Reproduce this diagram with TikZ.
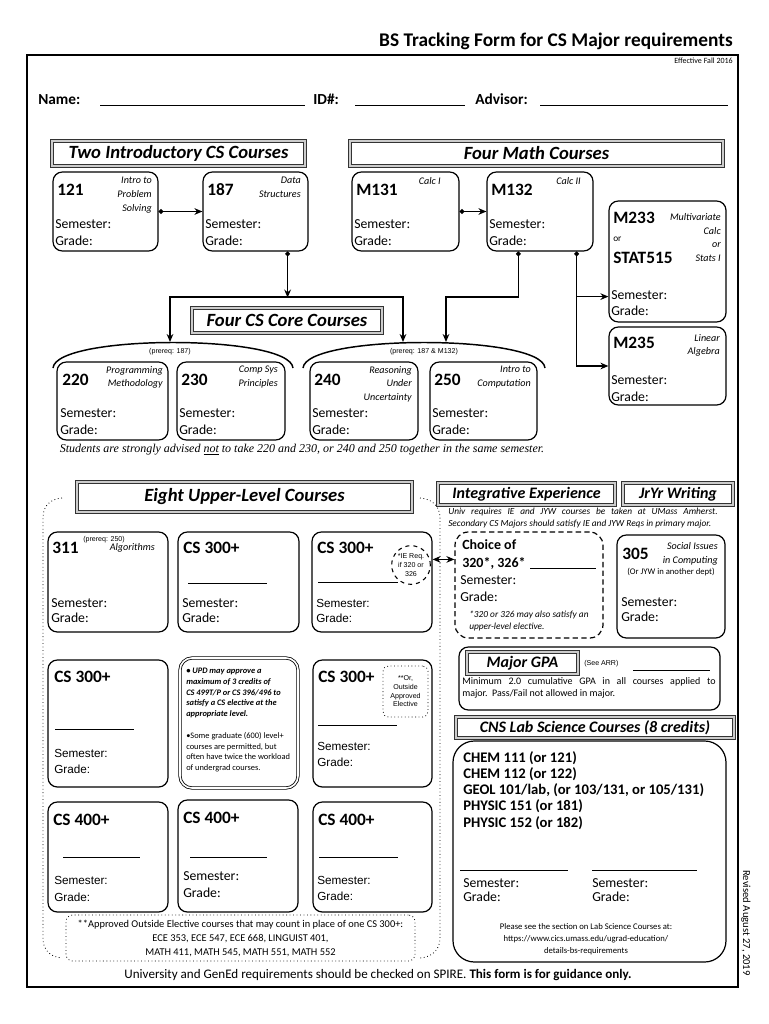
\documentclass[tikz,border=0pt]{standalone}
\usepackage{fontspec}
\setmainfont{Carlito}
\newfontfamily\arialfont{Liberation Sans}
\newfontfamily\timesfont{Liberation Serif}
\usepackage{tikz}
\usetikzlibrary{arrows.meta, positioning, fit, calc}
\newcommand{\titlefont}{\fontsize{14.5}{16}\selectfont\bfseries}
\newcommand{\numfont}{\fontsize{13}{15}\selectfont\bfseries}
\newcommand{\subfont}{\fontsize{7.6}{10.3}\selectfont\itshape}
\newcommand{\fldfont}{\fontsize{10.3}{12}\selectfont}
\newcommand{\lightfont}{\arialfont\fontsize{8.8}{10}\selectfont}
\newcommand{\hdrfont}{\fontsize{14}{16}\selectfont\bfseries\itshape}
\newcommand{\smallhdrfont}{\fontsize{12}{14}\selectfont\bfseries\itshape}
\newcommand{\tinysans}{\arialfont\fontsize{5.3}{6.5}\selectfont}
\tikzstyle{pageframe} = [draw, line width=1.5pt, inner sep=0pt]
\tikzstyle{header}    = [draw=black!80, line width=0.6pt, double=black!20, double distance=1.4pt, inner sep=0pt]
\tikzstyle{hdrtext}   = [inner sep=0pt, font=\hdrfont]
\tikzstyle{course}    = [draw, line width=0.9pt, rounded corners=7pt, inner sep=0pt]
\tikzstyle{num}       = [anchor=base west, inner sep=0pt, font=\numfont]
\tikzstyle{sub}       = [anchor=north east, inner sep=0pt, align=right, font=\subfont]
\tikzstyle{fld}       = [anchor=base west, inner sep=0pt, font=\fldfont]
\tikzstyle{lfld}      = [anchor=base west, inner sep=0pt, font=\lightfont]
\tikzstyle{info}      = [anchor=base west, inner sep=0pt, font=\fontsize{11.5}{13}\selectfont\bfseries]
\tikzstyle{prereq}    = [inner sep=0pt, font=\tinysans]
\tikzstyle{dotbox}    = [draw, dotted, line width=0.6pt, inner sep=0pt]
\tikzstyle{fillline}  = [line width=0.7pt]
\tikzstyle{grouparc}  = [line width=1.1pt]
\tikzstyle{dotbracket}= [line width=0.6pt, dotted]
\tikzstyle{arrow}     = [line width=1.1pt, {Circle[length=3.5pt]}-{Stealth[length=6pt,width=5pt]}]
\tikzstyle{branch}    = [line width=1.1pt, -{Stealth[length=6pt,width=5pt]}]
\tikzstyle{fork}      = [line width=1.1pt, {Stealth[length=6pt,width=5pt]}-{Stealth[length=6pt,width=5pt]}]
\begin{document}
\begin{tikzpicture}[x=0.75pt, y=-0.75pt]
  \useasboundingbox (0,0) rectangle (768,1024);

  % Page frame and heading
  \node (page)    [pageframe, fit={(27,55) (738,987)}] {};
  \node (title)   [anchor=base east, inner sep=0pt, font=\titlefont] at (733,47) {BS Tracking Form for CS Major requirements};
  \node (eff)     [anchor=base east, inner sep=0pt, font=\fontsize{6}{7}\selectfont] at (733,64) {Effective Fall 2016};
  \node (revised) [rotate=-90, inner sep=0pt, font=\fontsize{8}{9}\selectfont] at (746,923) {Revised August 27, 2019};

  % Student info
  \node (name)    [info] at (38,104)  {Name:};
  \node (id)      [info] at (313,104) {ID\#:};
  \node (advisor) [info] at (475,104) {Advisor:};
  \draw[fillline] (100,105) -- (305,105);
  \draw[fillline] (355,105) -- (465,105);
  \draw[fillline] (540,105) -- (728,105);

  % Intro CS courses
  \node (hdrIntro) [header, fit={(52,141) (305,166)}] {};
  \node (hdrIntroT) [hdrtext] at (hdrIntro) {Two Introductory CS Courses};
  \node (c121) [course, fit={(53,172) (158,251)}] {};
  \node (n121) [num] at (57,195)  {121};
  \node (t121) [sub] at (152,177) {Intro to\\Problem\\Solving};
  \node (s121) [fld] at (55,228)  {Semester:};
  \node (g121) [fld] at (55,245)  {Grade:};
  \node (c187) [course, fit={(203,172) (308,251)}] {};
  \node (n187) [num] at (207,195) {187};
  \node (t187) [sub] at (301,177) {Data\\Structures};
  \node (s187) [fld] at (205,228) {Semester:};
  \node (g187) [fld] at (205,245) {Grade:};

  % Math courses
  \node (hdrMath) [header, fit={(350,141) (723,166)}] {};
  \node (hdrMathT) [hdrtext] at (hdrMath) {Four Math Courses};
  \node (m131) [course, fit={(352,172) (459,251)}] {};
  \node (n131) [num] at (356,195) {M131};
  \node (t131) [sub] at (441,177) {Calc I};
  \node (s131) [fld] at (354,228) {Semester:};
  \node (g131) [fld] at (354,245) {Grade:};
  \node (m132) [course, fit={(487,172) (593,251)}] {};
  \node (n132) [num] at (491,195) {M132};
  \node (t132) [sub] at (581,177) {Calc II};
  \node (s132) [fld] at (489,228) {Semester:};
  \node (g132) [fld] at (489,245) {Grade:};
  \node (m233) [course, fit={(609,201) (726,322)}] {};
  \node (n233) [num] at (613,223) {M233};
  \node (t233) [sub] at (721,213) {Multivariate\\Calc\\or\\Stats I};
  \node (o233) [anchor=base west, inner sep=0pt, font=\fontsize{7}{8}\selectfont] at (613,241) {or};
  \node (n515) [num] at (613,263) {STAT515};
  \node (s233) [fld] at (611,299) {Semester:};
  \node (g233) [fld] at (611,315) {Grade:};
  \node (m235) [course, fit={(609,327) (726,405)}] {};
  \node (n235) [num] at (613,348) {M235};
  \node (t235) [sub] at (720,334) {Linear\\Algebra};
  \node (s235) [fld] at (611,384) {Semester:};
  \node (g235) [fld] at (611,401) {Grade:};

  % CS core courses
  \node (hdrCore) [header, fit={(192,308) (382,333)}] {};
  \node (hdrCoreT) [hdrtext] at (hdrCore) {Four CS Core Courses};
  \draw[grouparc] (53,368) .. controls (56,334) and (290,334) .. (293,368);
  \draw[grouparc] (303,368) .. controls (306,334) and (542,334) .. (545,368);
  \coordinate (coreA) at (170,342);
  \coordinate (coreB) at (403,342);
  \coordinate (coreC) at (446,342);
  \node (preA) [prereq] at (170,352) {(prereq: 187)};
  \node (preB) [prereq] at (424,352) {(prereq: 187 \& M132)};
  \node (c220) [course, fit={(57,362) (168,440)}] {};
  \node (n220) [num] at (62,385)  {220};
  \node (t220) [sub] at (163,366) {Programming\\Methodology};
  \node (s220) [fld] at (60,417)  {Semester:};
  \node (g220) [fld] at (60,434)  {Grade:};
  \node (c230) [course, fit={(177,362) (285,440)}] {};
  \node (n230) [num] at (181,385) {230};
  \node (t230) [sub] at (278,366) {Comp Sys\\Principles};
  \node (s230) [fld] at (179,417) {Semester:};
  \node (g230) [fld] at (179,434) {Grade:};
  \node (c240) [course, fit={(310,362) (418,440)}] {};
  \node (n240) [num] at (314,385) {240};
  \node (t240) [sub] at (412,366) {Reasoning\\Under\\Uncertainty};
  \node (s240) [fld] at (312,417) {Semester:};
  \node (g240) [fld] at (312,434) {Grade:};
  \node (c250) [course, fit={(430,362) (537,440)}] {};
  \node (n250) [num] at (434,385) {250};
  \node (t250) [sub] at (531,366) {Intro to\\Computation};
  \node (s250) [fld] at (432,417) {Semester:};
  \node (g250) [fld] at (432,434) {Grade:};
  \node (advice) [inner sep=0pt, font=\timesfont\fontsize{9}{10}\selectfont\itshape] at (302,450)
    {Students are strongly advised \underline{not} to take 220 and 230, or 240 and 250 together in the same semester.};

  % Prerequisite arrows
  \draw[arrow] (c121) -- (c187);
  \draw[arrow] (m131) -- (m132);
  \draw[arrow] ($(c187.south east)+(-21,0)$) -- ($(c187.south east)+(-21,46)$);
  \draw[fork] (coreA) |- ($(coreB)+(0,-45)$) -- (coreB);
  \draw[arrow] ($(m132.south west)+(32,0)$) |- ($(coreC)+(0,-45)$) -- (coreC);
  \draw[arrow] ($(m132.south east)+(-17,0)$) |- (m235.west);
  \draw[branch] ($(m132.south east)+(-17,45)$) -- ($(m233.south west)+(0,-26)$);

  % Upper-level courses
  \node (hdrUpper) [header, fit={(77,482) (412,512)}] {};
  \node (hdrUpperT) [hdrtext] at (hdrUpper) {Eight Upper-Level Courses};
  \draw[dotbracket] (62,498) .. controls (50,499) and (43,506) .. (43,518) -- (43,938)
                    .. controls (43,950) and (50,957) .. (62,958);
  \draw[dotbracket] (420,498) .. controls (432,499) and (440,506) .. (440,518) -- (440,938)
                    .. controls (440,950) and (432,957) .. (420,958);
  \node (u311) [course, fit={(48,532) (168,632)}] {};
  \node (n311) [num] at (52,553) {311};
  \node (p311) [prereq, anchor=base west] at (83,541) {(prereq: 250)};
  \node (t311) [anchor=base east, inner sep=0pt, font=\subfont] at (155,550) {Algorithms};
  \node (s311) [fld] at (51,607) {Semester:};
  \node (g311) [fld] at (51,622) {Grade:};
  \node (u300a) [course, fit={(178,532) (299,632)}] {};
  \node (n300a) [num] at (183,553) {CS 300+};
  \draw[fillline] (188,583) -- (267,583);
  \node (s300a) [fld] at (182,607) {Semester:};
  \node (g300a) [fld] at (182,622) {Grade:};
  \node (u300b) [course, fit={(312,532) (432,632)}] {};
  \node (n300b) [num] at (317,553) {CS 300+};
  \node (ieReq) [circle, draw, dashed, line width=0.8pt, inner sep=0pt, minimum size=29pt,
                 align=center, font=\tinysans] at (411,565) {*IE Req.\\if 320 or\\326};
  \draw[fillline] (318,582) -- (398,582);
  \node (s300b) [lfld] at (316,607) {Semester:};
  \node (g300b) [lfld] at (316,622) {Grade:};

  \node (u300c) [course, fit={(48,660) (168,787)}] {};
  \node (n300c) [num] at (54,682) {CS 300+};
  \draw[fillline] (55,729) -- (134,729);
  \node (s300c) [lfld] at (54,757) {Semester:};
  \node (g300c) [lfld] at (54,773) {Grade:};
  \node (note) [course, double, double distance=1.2pt, line width=0.6pt, rounded corners=9pt,
                fit={(180,658) (298,788)}] {};
  \node (noteA) [anchor=north west, inner sep=0pt, align=left, font=\fontsize{6.3}{8}\selectfont\bfseries\itshape]
    at (186,668) {• UPD may approve a\\maximum of 3 credits of\\CS 499T/P or CS 396/496 to\\satisfy a CS elective at the\\appropriate level.};
  \node (noteB) [anchor=north west, inner sep=0pt, align=left, font=\fontsize{6.3}{8}\selectfont]
    at (186,732) {•Some graduate (600) level+\\courses are permitted, but\\often have twice the workload\\of undergrad courses.};
  \node (u300d) [course, fit={(313,660) (432,787)}] {};
  \node (n300d) [num] at (318,682) {CS 300+};
  \node (orOut) [dotbox, rounded corners=4pt, fit={(383,666) (428,717)}] {};
  \node (orOutT) [align=center, inner sep=0pt, font=\tinysans] at (orOut) {**Or,\\Outside\\Approved\\Elective};
  \draw[fillline] (318,725) -- (397,725);
  \node (s300d) [lfld] at (317,750) {Semester:};
  \node (g300d) [lfld] at (317,766) {Grade:};

  \node (u400a) [course, fit={(48,802) (168,912)}] {};
  \node (n400a) [num] at (53,825) {CS 400+};
  \draw[fillline] (63,857) -- (140,857);
  \node (s400a) [lfld] at (54,884) {Semester:};
  \node (g400a) [lfld] at (54,901) {Grade:};
  \node (u400b) [course, fit={(178,800) (298,912)}] {};
  \node (n400b) [num] at (183,823) {CS 400+};
  \draw[fillline] (190,857) -- (267,857);
  \node (s400b) [fld] at (183,880) {Semester:};
  \node (g400b) [fld] at (183,897) {Grade:};
  \node (u400c) [course, fit={(313,802) (432,912)}] {};
  \node (n400c) [num] at (318,825) {CS 400+};
  \draw[fillline] (319,857) -- (398,857);
  \node (s400c) [lfld] at (317,884) {Semester:};
  \node (g400c) [lfld] at (317,900) {Grade:};
  \node (approved) [dotbox, rounded corners=5pt, fit={(66,915) (415,961)}] {};
  \node (approvedT) [align=center, inner sep=0pt, font=\fontsize{7.8}{10.5}\selectfont] at (approved)
    {**Approved Outside Elective courses that may count in place of one CS 300+:\\ECE 353, ECE 547, ECE 668, LINGUIST 401,\\MATH 411, MATH 545, MATH 551, MATH 552};

  % Integrative experience and junior year writing
  \node (hdrIE)  [header, fit={(438,483) (615,505)}] {};
  \node (hdrIET) [hdrtext, font=\smallhdrfont] at (hdrIE) {Integrative Experience};
  \node (hdrJYW) [header, fit={(623,483) (733,505)}] {};
  \node (hdrJYWT) [hdrtext, font=\smallhdrfont] at (hdrJYW) {JrYr Writing};
  \node (univ) [anchor=north west, inner sep=0pt, align=left, font=\fontsize{7}{9}\selectfont\itshape] at (448,508)
    {\makebox[202pt][s]{Univ requires IE and JYW courses be taken at UMass Amherst.}\\Secondary CS Majors should satisfy IE and JYW Reqs in primary major.};
  \node (choice) [course, dash pattern=on 4pt off 2.5pt, rounded corners=10pt, fit={(455,532) (603,638)}] {};
  \node (chA) [anchor=base west, inner sep=0pt, font=\fontsize{10.5}{12}\selectfont\bfseries] at (462,549) {Choice of};
  \node (chB) [anchor=base west, inner sep=0pt, font=\fontsize{10.5}{12}\selectfont\bfseries] at (462,567) {320*, 326*};
  \draw[fillline] (530,568) -- (596,568);
  \node (sch) [fld] at (460,584) {Semester:};
  \node (gch) [fld] at (460,601) {Grade:};
  \node (chNote) [anchor=north west, inner sep=0pt, align=left, font=\fontsize{7}{9}\selectfont\itshape] at (469,611)
    {*320 or 326 may also satisfy an\\upper-level elective.};
  \draw[fork, line width=0.9pt] ($(u300b.north east)+(0,28)$) -- ($(choice.north west)+(0,28)$);
  \node (c305) [course, fit={(617,535) (725,638)}] {};
  \node (n305) [num] at (622,559) {305};
  \node (t305) [sub] at (718,542) {Social Issues\\in Computing};
  \node (o305) [inner sep=0pt, font=\fontsize{6.5}{8}\selectfont] at (671,572) {(Or JYW in another dept)};
  \node (s305) [fld] at (621,606) {Semester:};
  \node (g305) [fld] at (621,621) {Grade:};

  % Major GPA
  \node (gpa) [course, fit={(459,647) (720,710)}] {};
  \node (hdrGPA) [header, fit={(467,652) (578,674)}] {};
  \node (hdrGPAT) [hdrtext, font=\smallhdrfont] at (hdrGPA) {Major GPA};
  \node (arr) [prereq, anchor=base west] at (584,665) {(See ARR)};
  \draw[fillline] (633,670) -- (710,670);
  \node (gpaText) [anchor=north west, inner sep=0pt, align=left, font=\fontsize{7.5}{9.5}\selectfont] at (462,677)
    {\makebox[190pt][s]{Minimum 2.0 cumulative GPA in all courses applied to}\\major.\ \ Pass/Fail not allowed in major.};

  % Lab science
  \node (hdrCNS) [header, fit={(456,717) (734,738)}] {};
  \node (hdrCNST) [hdrtext, font=\smallhdrfont] at (hdrCNS) {CNS Lab Science Courses (8 credits)};
  \node (cns) [course, rounded corners=16pt, fit={(453,741) (726,962)}] {};
  \node (labs) [anchor=north west, inner sep=0pt, align=left, font=\fontsize{11}{12.2}\selectfont\bfseries] at (463,751)
    {CHEM 111 (or 121)\\CHEM 112 (or 122)\\GEOL 101/lab, (or 103/131, or 105/131)\\PHYSIC 151 (or 181)\\PHYSIC 152 (or 182)};
  \draw[fillline] (460,870) -- (568,870);
  \draw[fillline] (592,870) -- (697,870);
  \node (slabA) [fld] at (463,887) {Semester:};
  \node (glabA) [fld] at (463,901) {Grade:};
  \node (slabB) [fld] at (592,887) {Semester:};
  \node (glabB) [fld] at (592,901) {Grade:};
  \node (labLink) [inner sep=0pt, align=center, font=\fontsize{6.5}{9}\selectfont] at (586,939)
    {Please see the section on Lab Science Courses at:\\https://www.cics.umass.edu/ugrad-education/\\details-bs-requirements};

  % Footer
  \node (footer) [inner sep=0pt, font=\fontsize{9.8}{11}\selectfont] at (378,975)
    {University and GenEd requirements should be checked on SPIRE. \textbf{This form is for guidance only.}};

\end{tikzpicture}
\end{document}
